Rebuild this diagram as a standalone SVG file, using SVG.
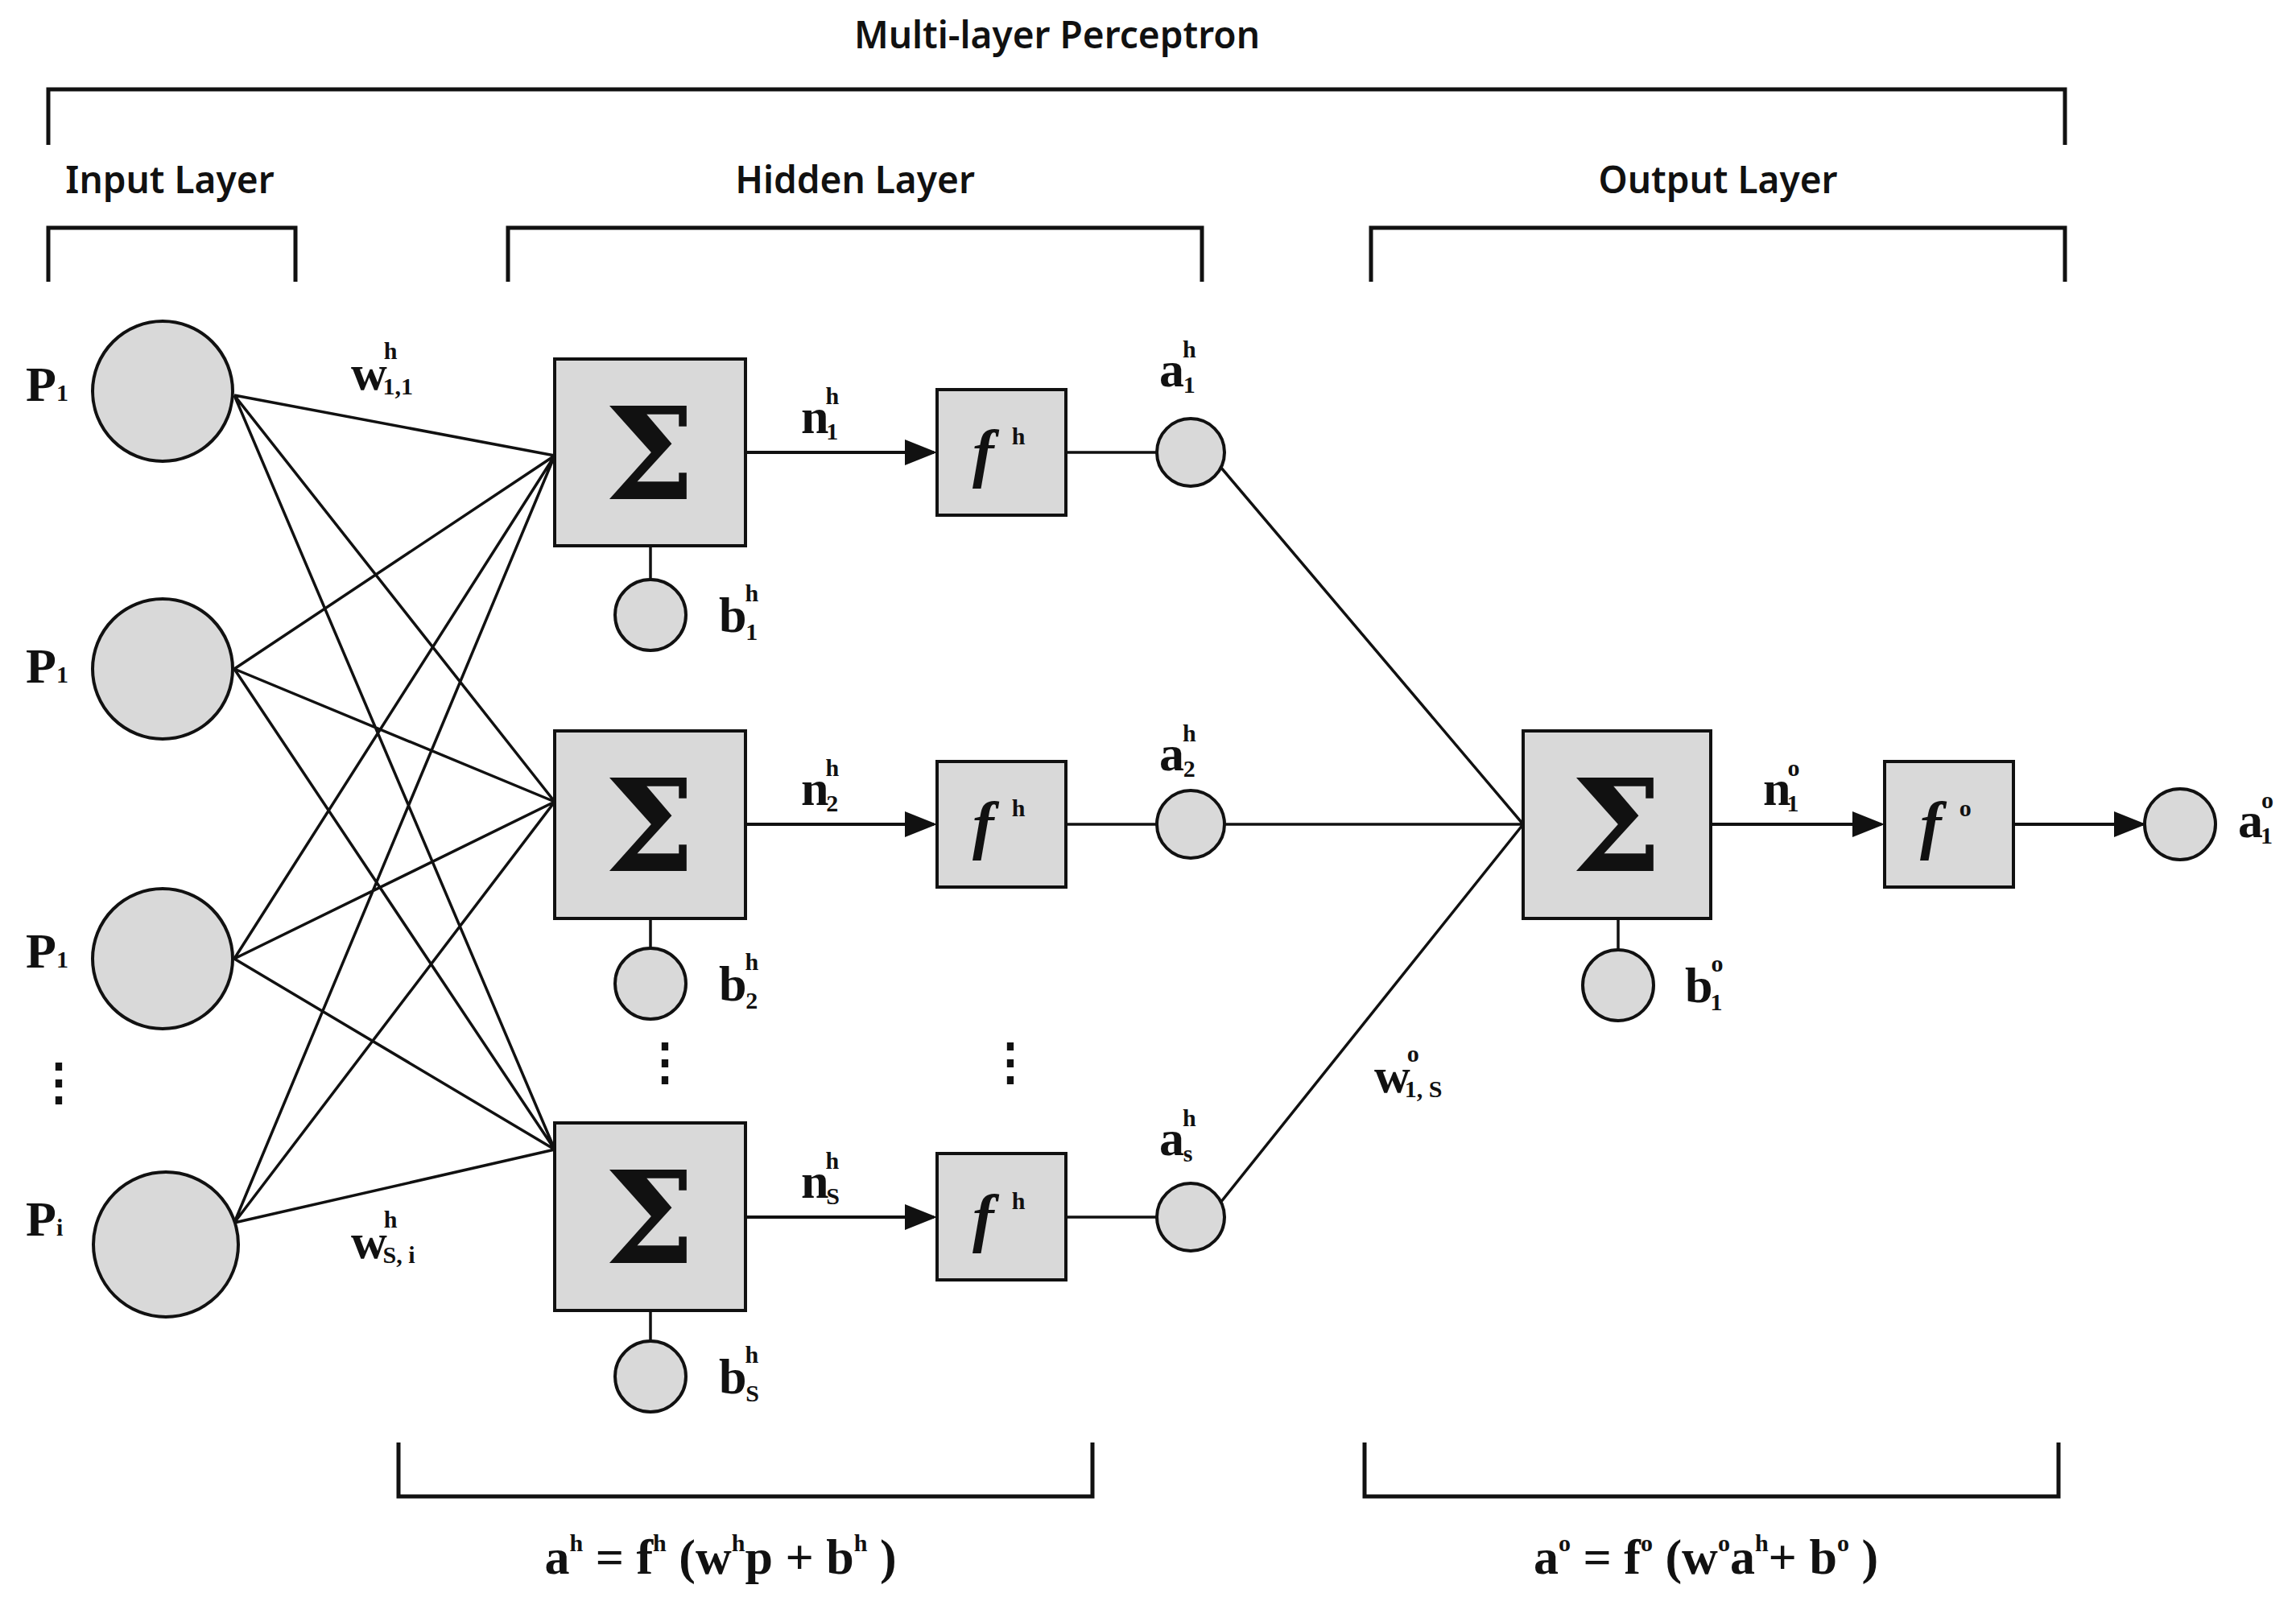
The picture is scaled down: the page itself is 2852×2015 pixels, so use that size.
<svg xmlns="http://www.w3.org/2000/svg" width="2852" height="2015" viewBox="0 0 2852 2015">
<style>
.hd{font-family:"Noto Sans","Liberation Sans",sans-serif;font-weight:600;font-size:46px;fill:#111;text-anchor:middle}
.m{font-family:"Liberation Serif",serif;font-weight:bold;font-size:62px;fill:#111}
.s{font-size:30px}
.br{fill:none;stroke:#111;stroke-width:5}
.ln{stroke:#111;stroke-width:3.5;fill:none}
.ar{stroke:#111;stroke-width:4;fill:none}
.nd{fill:#d9d9d9;stroke:#111;stroke-width:4}
.bx{fill:#d9d9d9;stroke:#111;stroke-width:4}
.sig{font-family:"DejaVu Serif",serif;font-weight:bold;font-size:160px;fill:#111;text-anchor:middle}
.fx{font-family:"Liberation Serif",serif;font-style:italic;font-weight:bold;font-size:80px;fill:#111}
</style>
<defs><marker id="ah" markerWidth="10" markerHeight="8" refX="9" refY="4" orient="auto" markerUnits="strokeWidth"><path d="M0,0L10,4L0,8z" fill="#111"/></marker></defs>
<g id="brackets">
<text class="hd" x="1313" y="60">Multi-layer Perceptron</text>
<path class="br" d="M60,180V111H2565V180"/>
<text class="hd" x="211" y="240">Input Layer</text>
<path class="br" d="M60,350V283H367V350"/>
<text class="hd" x="1062" y="240">Hidden Layer</text>
<path class="br" d="M631,350V283H1493V350"/>
<text class="hd" x="2134" y="240">Output Layer</text>
<path class="br" d="M1703,350V283H2565V350"/>
<path class="br" d="M495,1792V1859H1357V1792"/>
<path class="br" d="M1695,1792V1859H2557V1792"/>
</g>
<g id="connectors">
<path class="ln" d="M291,491L689,566M291,491L689,996M291,491L689,1428M291,831L689,566M291,831L689,996M291,831L689,1428M291,1191L689,566M291,1191L689,996M291,1191L689,1428M291,1519L689,566M291,1519L689,996M291,1519L689,1428"/>
<path class="ln" d="M808,678V720M808,1141V1178M808,1628V1666M2010,1141V1180"/>
<path class="ar" marker-end="url(#ah)" d="M926,562H1160"/>
<path class="ar" marker-end="url(#ah)" d="M926,1024H1160"/>
<path class="ar" marker-end="url(#ah)" d="M926,1512H1160"/>
<path class="ar" marker-end="url(#ah)" d="M2125,1024H2337"/>
<path class="ar" marker-end="url(#ah)" d="M2501,1024H2662"/>
<path class="ln" d="M1324,562H1437M1324,1024H1437M1324,1512H1437M1516,580L1892,1024M1521,1024H1892M1516,1494L1892,1024"/>
</g>
<g id="inputs">
<circle class="nd" cx="202" cy="486" r="87"/><circle class="nd" cx="202" cy="831" r="87"/><circle class="nd" cx="202" cy="1191" r="87"/><circle class="nd" cx="206" cy="1546" r="90"/>
<text class="m" x="32" y="498">P<tspan class="s">1</tspan></text>
<text class="m" x="32" y="848">P<tspan class="s">1</tspan></text>
<text class="m" x="32" y="1202">P<tspan class="s">1</tspan></text>
<text class="m" x="32" y="1535">P<tspan class="s">i</tspan></text>
<text class="m" x="42" y="1365" font-size="60">⋮</text>
</g>
<g id="sum1"><rect class="bx" x="689" y="446" width="237" height="232"/><text class="sig" x="807" y="620">Σ</text></g>
<g id="sum2"><rect class="bx" x="689" y="908" width="237" height="233"/><text class="sig" x="807" y="1082">Σ</text></g>
<g id="sum3"><rect class="bx" x="689" y="1395" width="237" height="233"/><text class="sig" x="807" y="1569">Σ</text></g>
<g id="bias"><circle class="nd" cx="808" cy="764" r="44"/><circle class="nd" cx="808" cy="1222" r="44"/><circle class="nd" cx="808" cy="1710" r="44"/><circle class="nd" cx="2010" cy="1224" r="44"/>
<text class="m" x="893" y="785">b<tspan class="s" dx="-2" dy="-38">h</tspan><tspan class="s" dx="-16" dy="48">1</tspan></text>
<text class="m" x="893" y="1243">b<tspan class="s" dx="-2" dy="-38">h</tspan><tspan class="s" dx="-16" dy="48">2</tspan></text>
<text class="m" x="893" y="1731">b<tspan class="s" dx="-2" dy="-38">h</tspan><tspan class="s" dx="-16" dy="48">S</tspan></text>
<text class="m" x="2093" y="1245">b<tspan class="s" dx="-2" dy="-38">o</tspan><tspan class="s" dx="-16" dy="48">1</tspan></text>
</g>
<g id="nlabels">
<text class="m" x="995" y="538">n<tspan class="s" dx="-4" dy="-36">h</tspan><tspan class="s" dx="-16" dy="44">1</tspan></text>
<text class="m" x="995" y="1000">n<tspan class="s" dx="-4" dy="-36">h</tspan><tspan class="s" dx="-16" dy="44">2</tspan></text>
<text class="m" x="995" y="1488">n<tspan class="s" dx="-4" dy="-36">h</tspan><tspan class="s" dx="-16" dy="44">S</tspan></text>
<text class="m" x="2190" y="1000">n<tspan class="s" dx="-4" dy="-36">o</tspan><tspan class="s" dx="-16" dy="44">1</tspan></text>
</g>
<g id="f1"><rect class="bx" x="1164" y="484" width="160" height="156"/><text class="fx" x="1208" y="590">f<tspan class="s" font-style="normal" dx="22" dy="-38">h</tspan></text></g>
<g id="f2"><rect class="bx" x="1164" y="946" width="160" height="156"/><text class="fx" x="1208" y="1052">f<tspan class="s" font-style="normal" dx="22" dy="-38">h</tspan></text></g>
<g id="f3"><rect class="bx" x="1164" y="1433" width="160" height="157"/><text class="fx" x="1208" y="1540">f<tspan class="s" font-style="normal" dx="22" dy="-38">h</tspan></text></g>
<g id="acts"><circle class="nd" cx="1479" cy="562" r="42"/><circle class="nd" cx="1479" cy="1024" r="42"/><circle class="nd" cx="1479" cy="1512" r="42"/>
<text class="m" x="1440" y="480">a<tspan class="s" dx="-2" dy="-36">h</tspan><tspan class="s" dx="-16" dy="44">1</tspan></text>
<text class="m" x="1440" y="957">a<tspan class="s" dx="-2" dy="-36">h</tspan><tspan class="s" dx="-16" dy="44">2</tspan></text>
<text class="m" x="1440" y="1435">a<tspan class="s" dx="-2" dy="-36">h</tspan><tspan class="s" dx="-16" dy="44">s</tspan></text>
<text class="m" x="795" y="1340" font-size="60">⋮</text>
<text class="m" x="1224" y="1340" font-size="60">⋮</text>
</g>
<g id="sumout"><rect class="bx" x="1892" y="908" width="233" height="233"/><text class="sig" x="2008" y="1082">Σ</text></g>
<g id="fout"><rect class="bx" x="2341" y="946" width="160" height="156"/><text class="fx" x="2385" y="1052">f<tspan class="s" font-style="normal" dx="22" dy="-38">o</tspan></text></g>
<g id="out"><circle class="nd" cx="2708" cy="1024" r="44"/>
<text class="m" x="2780" y="1040">a<tspan class="s" dx="-2" dy="-36">o</tspan><tspan class="s" dx="-16" dy="44">1</tspan></text></g>
<g id="wlabels">
<text class="m" x="436" y="484">w<tspan class="s" dx="-4" dy="-38">h</tspan><tspan class="s" dx="-18" dy="44">1,1</tspan></text>
<text class="m" x="436" y="1563">w<tspan class="s" dx="-4" dy="-38">h</tspan><tspan class="s" dx="-18" dy="44">S, i</tspan></text>
<text class="m" x="1707" y="1357">w<tspan class="s" dx="-4" dy="-38">o</tspan><tspan class="s" dx="-18" dy="44">1, S</tspan></text>
</g>
<g id="formulas">
<text class="m" x="895" y="1955" font-size="70" text-anchor="middle">a<tspan class="s" dy="-28">h</tspan><tspan dy="28"> = f</tspan><tspan class="s" dy="-28">h</tspan><tspan dy="28"> (w</tspan><tspan class="s" dy="-28">h</tspan><tspan dy="28">p + b</tspan><tspan class="s" dy="-28">h</tspan><tspan dy="28"> )</tspan></text>
<text class="m" x="2119" y="1955" font-size="70" text-anchor="middle">a<tspan class="s" dy="-28">o</tspan><tspan dy="28"> = f</tspan><tspan class="s" dy="-28">o</tspan><tspan dy="28"> (w</tspan><tspan class="s" dy="-28">o</tspan><tspan dy="28">a</tspan><tspan class="s" dy="-28">h</tspan><tspan dy="28">+ b</tspan><tspan class="s" dy="-28">o</tspan><tspan dy="28"> )</tspan></text>
</g>
</svg>
